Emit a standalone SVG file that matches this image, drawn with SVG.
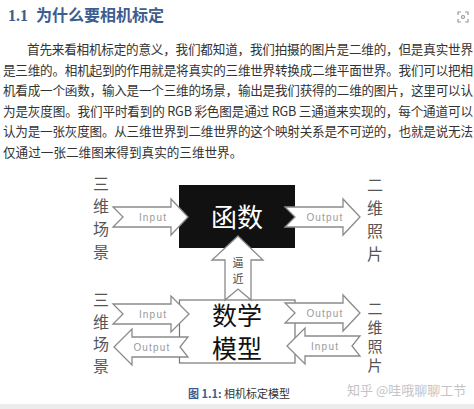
<svg xmlns="http://www.w3.org/2000/svg" width="474" height="409" viewBox="0 0 474 409">
<style>
.title{font-family:"Liberation Serif","Noto Sans CJK SC",serif;font-weight:bold;font-size:16px;fill:#3d5d90}
.para{font-family:"Noto Sans CJK SC",sans-serif;font-size:12.6px;fill:#333}
.side{font-family:"Noto Sans CJK SC",sans-serif;font-size:16px;fill:#555;text-anchor:middle}
.arrow{fill:#fff;stroke:#8a8a8a;stroke-width:1.3;stroke-linejoin:miter}
.lbl{font-family:"Liberation Sans",sans-serif;font-size:10px;letter-spacing:1.2px;fill:#9a9a9a;text-anchor:middle}
.big{font-family:"Noto Sans CJK SC",sans-serif;font-size:26px;text-anchor:middle}
.big2{font-family:"Noto Sans CJK SC",sans-serif;font-size:25px;text-anchor:middle;fill:#111}
.small{font-family:"Noto Sans CJK SC",sans-serif;font-size:11px;fill:#444;text-anchor:middle}
.cap{font-family:"Noto Sans CJK SC",sans-serif;font-size:11px;fill:#333}
</style>
<rect x="0" y="0" width="474" height="409" fill="#fff"/>
<text class="title" x="8" y="21">1.1<tspan x="36">为什么要相机标定</tspan></text>
<g fill="none" stroke="#999" stroke-width="1.2">
<path d="M458 15v-3h3M465 12h3v3M468 19v3h-3M461 22h-3v-3"/>
<circle cx="463" cy="17" r="1.5"/>
</g>
<g class="para">
<text x="27" y="54" textLength="446" lengthAdjust="spacing">首先来看相机标定的意义，我们都知道，我们拍摄的图片是二维的，但是真实世界</text>
<text x="3" y="74.5" textLength="470" lengthAdjust="spacing">是三维的。相机起到的作用就是将真实的三维世界转换成二维平面世界。我们可以把相</text>
<text x="3" y="95" textLength="470" lengthAdjust="spacing">机看成一个函数，输入是一个三维的场景，输出是我们获得的二维的图片，这里可以认</text>
<text x="3" y="115.5" textLength="470" lengthAdjust="spacing">为是灰度图。我们平时看到的 RGB 彩色图是通过 RGB 三通道来实现的，每个通道可以</text>
<text x="3" y="136" textLength="470" lengthAdjust="spacing">认为是一张灰度图。从三维世界到二维世界的这个映射关系是不可逆的，也就是说无法</text>
<text x="3" y="156.5">仅通过一张二维图来得到真实的三维世界。</text>
</g>
<g id="func">
<rect x="179" y="185" width="116" height="63" fill="#111"/>
<text class="big" x="237" y="227" fill="#fff">函数</text>
</g>
<g id="model">
<rect x="179.5" y="300" width="115.5" height="63" fill="#fff" stroke="#777" stroke-width="1.2"/>
</g>
<g id="connectors">
<path class="arrow" d="M113 207L171 207L171 199L188 217L171 235L171 227L113 227L123 217Z"/>
<path class="arrow" d="M285 207L343 207L343 199L360 217L343 235L343 227L285 227L295 217Z"/>
<path class="arrow" d="M238 236L263 260L251 260L251 300L238 289L225 300L225 260L212 260Z"/>
<path class="arrow" d="M113 304L171 304L171 296L189 314L171 332L171 324L113 324L123 314Z"/>
<path class="arrow" d="M285 303L343 303L343 295L360 313L343 331L343 323L285 323L295 313Z"/>
<path class="arrow" d="M114 347L132 329L132 337L188 337L180 347L188 357L132 357L132 365Z"/>
<path class="arrow" d="M287 346L305 328L305 336L360 336L352 346L360 356L305 356L305 364Z"/>
<text class="lbl" x="153" y="221">Input</text>
<text class="lbl" x="325" y="221">Output</text>
<text class="lbl" x="153" y="318">Input</text>
<text class="lbl" x="325" y="317">Output</text>
<text class="lbl" x="152" y="351">Output</text>
<text class="lbl" x="325" y="350">Input</text>
<text class="small" x="238" y="267">逼</text>
<text class="small" x="238" y="283">近</text>
</g>
<g id="model-label">
<text class="big2" x="237" y="325">数学</text>
<text class="big2" x="237" y="358">模型</text>
</g>
<g id="scene-top">
<text class="side" x="101" y="190">三</text>
<text class="side" x="101" y="212">维</text>
<text class="side" x="101" y="235">场</text>
<text class="side" x="101" y="258">景</text>
</g>
<g id="photo-top">
<text class="side" x="375" y="191">二</text>
<text class="side" x="375" y="214">维</text>
<text class="side" x="375" y="237">照</text>
<text class="side" x="375" y="260">片</text>
</g>
<g id="scene-bottom">
<text class="side" x="101" y="306">三</text>
<text class="side" x="101" y="328">维</text>
<text class="side" x="101" y="350">场</text>
<text class="side" x="101" y="372">景</text>
</g>
<g id="photo-bottom">
<text class="side" x="375" y="314" style="font-size:15px">二</text>
<text class="side" x="375" y="333" style="font-size:15px">维</text>
<text class="side" x="375" y="352" style="font-size:15px">照</text>
<text class="side" x="375" y="371" style="font-size:15px">片</text>
</g>
<text class="cap" x="188" y="398"><tspan fill="#3d5d90" font-weight="bold">图 1.1:</tspan> 相机标定模型</text>
<text x="347" y="395" font-family="Noto Sans CJK SC, sans-serif" font-size="13" fill="#c4c4c4">知乎 @哇哦聊聊工节</text>
<rect x="0" y="404" width="474" height="5" fill="#ececec"/>
</svg>
